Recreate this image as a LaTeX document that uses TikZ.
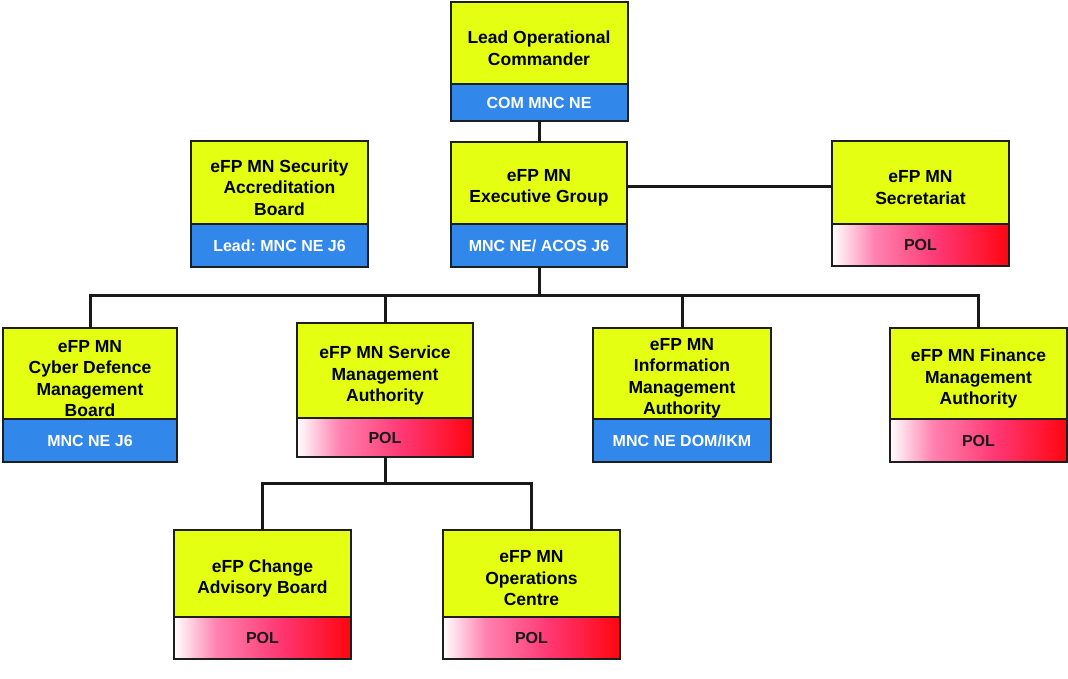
\documentclass[tikz,border=0pt]{standalone}
\usepackage{fontspec}
\setmainfont{Liberation Sans}
\frenchspacing
\definecolor{boxyellow}{RGB}{229,255,18}
\definecolor{boxblue}{RGB}{50,135,235}
\definecolor{polpinkA}{RGB}{255,130,175}
\definecolor{polpink}{RGB}{255,55,115}
\definecolor{polred}{RGB}{255,5,15}
\definecolor{edgegrey}{RGB}{30,30,30}
\pgfdeclarehorizontalshading{polshade}{100bp}{color(0bp)=(white); color(25bp)=(white);
  color(37bp)=(polpinkA); color(55bp)=(polpink); color(75bp)=(polred); color(100bp)=(polred)}
\tikzset{
  titlebox/.style={draw=edgegrey, line width=2pt, fill=boxyellow, inner sep=0pt, outer sep=0pt},
  titletext/.style={inner sep=0pt, align=center, font=\bfseries\fontsize{17.5}{21.5}\selectfont, text=black},
  blueband/.style={draw=edgegrey, line width=2pt, fill=boxblue, inner sep=0pt, outer sep=0pt,
    font=\bfseries\fontsize{16}{19}\selectfont, text=white},
  polband/.style={draw=edgegrey, line width=2pt, shading=polshade, inner sep=0pt, outer sep=0pt,
    font=\bfseries\fontsize{16}{19}\selectfont, text=black!90},
  link/.style={line width=3pt, draw=black!90}
}
% name, cx, top, width, title height, band height, band style, title, band text
\newcommand\obox[9]{%
  \node[titlebox, minimum width=#4, minimum height=#5, anchor=north] (#1) at (#2,#3) {};
  \node[titletext, yshift=-5pt] (#1-t) at (#1.center) {#8};
  \node[#7, minimum width=#4, minimum height=#6, anchor=north] (#1-b) at (#1.south) {#9};
}
\begin{document}
\begin{tikzpicture}[x=1pt,y=-1pt]
\useasboundingbox (0,0) rectangle (1068,678);
\coordinate (bus) at (539,295);
\coordinate (sub) at (385,483);
\obox{lead}{539}{2}{177pt}{82pt}{37pt}{blueband}{Lead Operational\\Commander}{COM MNC NE}
\obox{exec}{539}{142}{176pt}{82pt}{43pt}{blueband}{eFP MN\\Executive Group}{MNC NE/ ACOS J6}
\obox{secb}{279.5}{141}{177pt}{83pt}{43pt}{blueband}{eFP MN Security\\Accreditation\\Board}{Lead: MNC NE J6}
\obox{secr}{920.5}{141}{177pt}{83pt}{42pt}{polband}{eFP MN\\Secretariat}{POL}
\obox{cyber}{90}{328}{174pt}{91pt}{43pt}{blueband}{eFP MN\\Cyber Defence\\Management\\Board}{MNC NE J6}
\obox{serv}{385}{323}{176pt}{95pt}{39pt}{polband}{eFP MN Service\\Management\\Authority}{POL}
\obox{info}{682}{328}{178pt}{91pt}{43pt}{blueband}{eFP MN\\Information\\Management\\Authority}{MNC NE DOM/IKM}
\obox{fin}{978.5}{328}{177pt}{91pt}{43pt}{polband}{eFP MN Finance\\Management\\Authority}{POL}
\obox{change}{262.5}{530}{177pt}{87pt}{42pt}{polband}{eFP Change\\Advisory Board}{POL}
\obox{ops}{531.5}{530}{177pt}{87pt}{42pt}{polband}{eFP MN\\Operations\\Centre}{POL}
\draw[link] (lead-b.south) -- (exec.north);
\draw[link] (exec.east |- 0,186) -- (secr.west |- 0,186);
\draw[link] (exec-b.south) -- (bus);
\draw[link] (cyber.north) |- (bus) -| (fin.north);
\draw[link] (serv.north) -- (serv.north |- bus);
\draw[link] (info.north) -- (info.north |- bus);
\draw[link] (serv-b.south) -- (sub);
\draw[link] (change.north) |- (sub) -| (ops.north);
\end{tikzpicture}
\end{document}
